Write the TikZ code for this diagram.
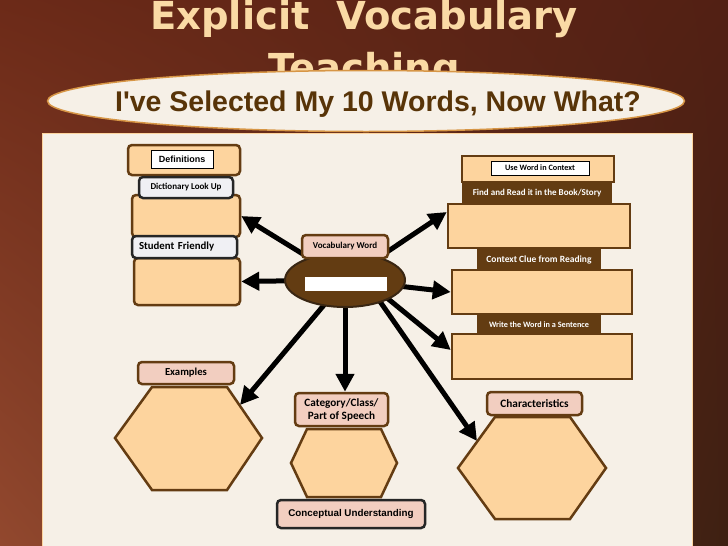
\documentclass[tikz,border=0pt]{standalone}
\usepackage{fontspec}
\setmainfont{Carlito}
\newfontfamily\titlefont{DejaVu Sans}
\newfontfamily\subfont{Liberation Sans}
\usetikzlibrary{shapes.geometric,arrows.meta,shadings}
\definecolor{bgtl}{RGB}{108,42,24}
\definecolor{bgtr}{RGB}{82,32,20}
\definecolor{bgbl}{RGB}{146,72,46}
\definecolor{bgbr}{RGB}{62,32,18}
\definecolor{panel}{RGB}{246,240,231}
\definecolor{orangefill}{RGB}{253,212,158}
\definecolor{brownline}{RGB}{100,60,18}
\definecolor{bandfill}{RGB}{99,60,18}
\definecolor{pinkfill}{RGB}{242,206,192}
\definecolor{greyfill}{RGB}{240,240,244}
\definecolor{titlecol}{RGB}{250,218,165}
\definecolor{subcol}{RGB}{88,52,8}
\definecolor{ovalline}{RGB}{215,150,70}
\pgfdeclarelayer{bglayer}
\pgfdeclarelayer{arrowlayer}
\pgfsetlayers{bglayer,arrowlayer,main}
\tikzset{
  obox/.style={draw=brownline, fill=orangefill, line width=2.5pt, rounded corners=4pt, inner sep=0pt},
  sbox/.style={draw=brownline, fill=orangefill, line width=2.5pt, inner sep=0pt},
  gbox/.style={draw=black!85, fill=greyfill, line width=2.5pt, rounded corners=4pt, inner sep=0pt},
  pbox/.style={draw=brownline, fill=pinkfill, line width=2.5pt, rounded corners=4pt, inner sep=0pt, align=center},
  wbox/.style={draw=black, fill=white, line width=0.6pt, inner sep=0pt},
  band/.style={fill=bandfill, text=white, inner sep=0pt},
  hexa/.style={draw=brownline, fill=orangefill, line width=2.5pt, line join=miter},
  arr/.style={line width=5pt, -{Triangle[length=18pt,width=18pt]}},
}
\begin{document}
\begin{tikzpicture}[x=1pt,y=-1pt]
\useasboundingbox (0,0) rectangle (728,546);
\begin{pgfonlayer}{bglayer}
\shade[upper left=bgtl, upper right=bgtr, lower left=bgbl, lower right=bgbr] (0,0) rectangle (728,546);
\draw[fill=panel, draw=orangefill, line width=1pt] (42,133) rectangle (692,547);
\end{pgfonlayer}

% title
\node[anchor=base, text=titlecol, font=\titlefont\bfseries\fontsize{38.5}{42}\selectfont] (title) at (364,29) {Explicit\ \ Vocabulary};
\node[anchor=base, text=titlecol, font=\titlefont\bfseries\fontsize{38.5}{42}\selectfont] (teach) at (364,81) {Teaching};
\node[ellipse, draw=ovalline, fill=panel, line width=1.5pt, minimum width=637pt, minimum height=61pt] (oval) at (366,101) {};
\node[anchor=base, text=subcol, font=\subfont\bfseries\fontsize{28.5}{30}\selectfont] (subtitle) at (378,111) {I've Selected My 10 Words, Now What?};

% left column
\node[obox, minimum width=112pt, minimum height=30pt] (def) at (184,160) {};
\node[wbox, minimum width=62pt, minimum height=18pt, font=\subfont\bfseries\fontsize{9}{10}\selectfont] (deftext) at (182,159) {Definitions};
\node[obox, minimum width=108pt, minimum height=42pt] (lbox1) at (186,216) {};
\node[gbox, minimum width=94pt, minimum height=21pt, font=\bfseries\fontsize{9}{10}\selectfont] (dict) at (186,187.5) {Dictionary Look Up};
\node[obox, minimum width=106pt, minimum height=47pt] (lbox2) at (187,281.5) {};
\node[gbox, minimum width=105pt, minimum height=22pt, font=\bfseries\fontsize{10.8}{12}\selectfont, text width=91pt, align=left] (stud) at (184.5,247) {Student Friendly};

% right column
\node[sbox, minimum width=152pt, minimum height=26pt] (ctx) at (538,169) {};
\node[wbox, minimum width=98pt, minimum height=14pt, font=\bfseries\fontsize{8.2}{9}\selectfont] (ctxtext) at (540,168) {Use Word in Context};
\node[band, minimum width=150pt, minimum height=23pt, font=\bfseries\fontsize{9}{10}\selectfont] (band1) at (537,193.5) {Find and Read it in the Book/Story};
\node[sbox, minimum width=182pt, minimum height=44pt] (rbox1) at (539,226) {};
\node[band, minimum width=124pt, minimum height=23pt, font=\bfseries\fontsize{9.5}{10}\selectfont] (band2) at (539,259.5) {Context Clue from Reading};
\node[sbox, minimum width=180pt, minimum height=44pt] (rbox2) at (542,292) {};
\node[band, minimum width=124pt, minimum height=21pt, font=\bfseries\fontsize{8.2}{9}\selectfont] (band3) at (539,324.5) {Write the Word in a Sentence};
\node[sbox, minimum width=180pt, minimum height=45pt] (rbox3) at (542,356.5) {};

% centre
\node[ellipse, draw=black!70!brown, fill=bandfill, line width=2pt, minimum width=120pt, minimum height=54pt, inner sep=0pt] (vocab) at (345,280) {};
\node[pbox, minimum width=86pt, minimum height=23pt, font=\bfseries\fontsize{9}{10}\selectfont] (vlabel) at (345,246.5) {Vocabulary Word};
\node[wbox, draw=brownline, minimum width=83pt, minimum height=15pt] (vword) at (345.5,283.5) {};

% hexagons
\draw[hexa] (115,438) -- (152,387) -- (227,387) -- (262,438) -- (227,490) -- (152,490) -- cycle;
\coordinate (hexA) at (240,405);
\draw[hexa] (291,463) -- (307,429) -- (381,429) -- (397,463) -- (381,497) -- (307,497) -- cycle;
\draw[hexa] (458,468) -- (495,417) -- (570,417) -- (606,468) -- (570,519) -- (495,519) -- cycle;
\coordinate (hexC) at (477,441);

\node[pbox, minimum width=96pt, minimum height=22pt, font=\bfseries\fontsize{10.7}{12}\selectfont] (examples) at (186,373) {Examples};
\node[pbox, minimum width=93pt, minimum height=33pt, font=\bfseries\fontsize{11.2}{13}\selectfont] (category) at (341.5,409.5) {Category/Class/\\Part of Speech};
\node[pbox, draw=black!85, minimum width=148pt, minimum height=28pt, font=\subfont\bfseries\fontsize{9.8}{11}\selectfont] (concept) at (351,514) {Conceptual Understanding};
\node[pbox, minimum width=95pt, minimum height=23pt, font=\bfseries\fontsize{11.3}{12}\selectfont] (charac) at (534.5,403.5) {Characteristics};

% arrows
\begin{pgfonlayer}{arrowlayer}
\draw[arr] (vocab.center) -- (lbox1.east);
\draw[arr] (vocab.center) -- (lbox2.east);
\draw[arr] (vocab.center) -- (rbox1.west |- 0,212);
\draw[arr] (vocab.center) -- (rbox2.west);
\draw[arr] ([xshift=20pt]vocab.center) -- (rbox3.west |- 0,350);
\draw[arr] ([xshift=20pt]vocab.center) -- (hexC);
\draw[arr] (vocab.center) -- (vocab.center |- category.north);
\draw[arr] (vocab.center) -- (hexA);
\end{pgfonlayer}
\end{tikzpicture}
\end{document}
